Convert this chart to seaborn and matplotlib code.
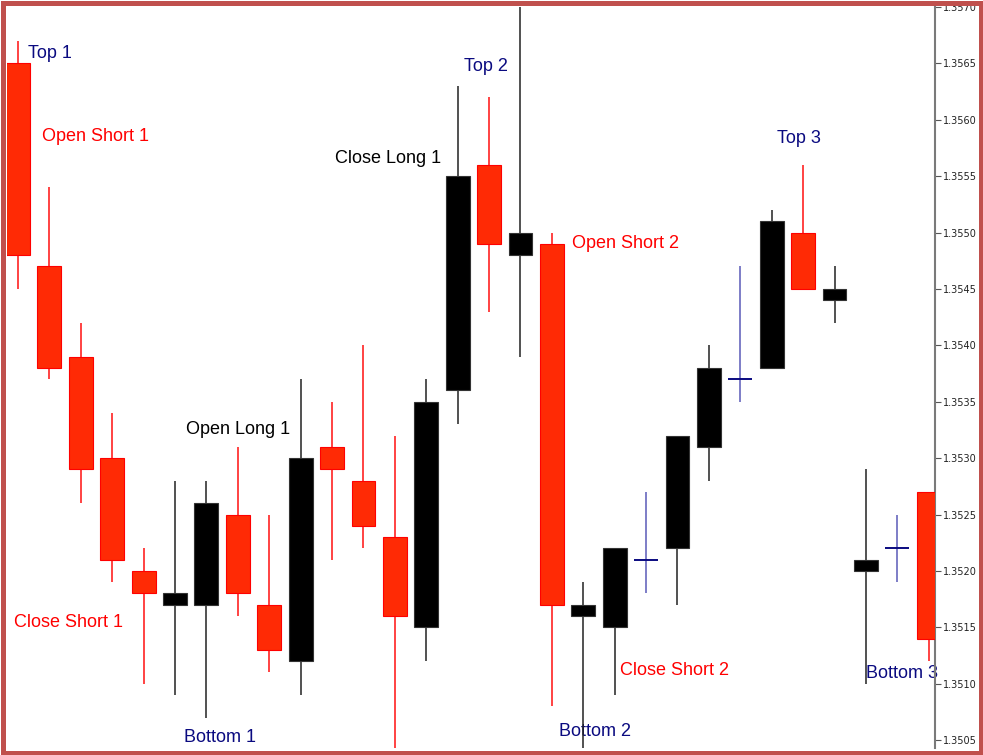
import numpy as np
import pandas as pd
import matplotlib
matplotlib.use("Agg")
import matplotlib.pyplot as plt
from matplotlib.patches import Rectangle
import seaborn as sns

# candle data (EUR-style 4-digit quotes)
opens = [1.3565, 1.3547, 1.3539, 1.3530, 1.3520, 1.3517, 1.3517, 1.3525, 1.3517, 1.3512,
         1.3531, 1.3528, 1.3523, 1.3515, 1.3536, 1.3556, 1.3548, 1.3549, 1.3516, 1.3515,
         1.3521, 1.3522, 1.3531, 1.3537, 1.3538, 1.3550, 1.3544, 1.3520, 1.3522, 1.3527]
highs = [1.3567, 1.3554, 1.3542, 1.3534, 1.3522, 1.3528, 1.3528, 1.3531, 1.3525, 1.3537,
         1.3535, 1.3540, 1.3532, 1.3537, 1.3563, 1.3562, 1.3571, 1.3550, 1.3519, 1.3522,
         1.3527, 1.3532, 1.3540, 1.3547, 1.3552, 1.3556, 1.3547, 1.3529, 1.3525, 1.3527]
lows = [1.3545, 1.3537, 1.3526, 1.3519, 1.3510, 1.3509, 1.3507, 1.3516, 1.3511, 1.3509,
        1.3521, 1.3522, 1.3503, 1.3512, 1.3533, 1.3543, 1.3539, 1.3508, 1.3503, 1.3509,
        1.3518, 1.3517, 1.3528, 1.3535, 1.3538, 1.3545, 1.3542, 1.3510, 1.3519, 1.3512]
closes = [1.3548, 1.3538, 1.3529, 1.3521, 1.3518, 1.3518, 1.3526, 1.3518, 1.3513, 1.3530,
          1.3529, 1.3524, 1.3516, 1.3535, 1.3555, 1.3549, 1.3550, 1.3517, 1.3517, 1.3522,
          1.3521, 1.3532, 1.3538, 1.3537, 1.3551, 1.3545, 1.3545, 1.3521, 1.3522, 1.3514]

# annotations: text, candle-x, price, colour key
labels = ["Top 1", "Open Short 1", "Close Short 1", "Open Long 1", "Bottom 1", "Close Long 1",
          "Top 2", "Open Short 2", "Bottom 2", "Close Short 2", "Top 3", "Bottom 3"]
label_x = [0.32, 0.76, -0.13, 5.35, 5.29, 10.1, 14.2, 17.64, 17.23, 19.17, 24.17, 27.0]
label_y = [1.35659, 1.35585, 1.35154, 1.35325, 1.35052, 1.35566, 1.35647, 1.35490,
           1.35058, 1.35112, 1.35583, 1.35109]
label_kind = ["top", "short", "short", "long", "top", "long",
              "top", "short", "top", "short", "top", "top"]

yticks = [1.3505, 1.3510, 1.3515, 1.3520, 1.3525, 1.3530, 1.3535,
          1.3540, 1.3545, 1.3550, 1.3555, 1.3560, 1.3565, 1.3570]

RED = "#ff2a05"
NAVY = "#0a0a80"
text_colors = {"top": NAVY, "short": "#ff0000", "long": "#000000"}

df = pd.DataFrame({"open": opens, "high": highs, "low": lows, "close": closes})
df["idx"] = np.arange(len(df))
df["kind"] = np.where(df["close"] > df["open"], "bull",
                      np.where(df["close"] < df["open"], "bear", "doji"))

sns.set_style("white")
fig = plt.figure(figsize=(9.83, 7.55), dpi=100)
W, H = 983, 755
ax = fig.add_axes([7 / W, 7 / H, (935 - 7) / W, (748 - 7) / H])

body_w = 0.76

# wicks
wick_colors = {"bull": "#222222", "bear": "#ff1010", "doji": "#5a5ab8"}
for kind, grp in df.groupby("kind"):
    ax.vlines(grp["idx"], grp["low"], grp["high"], color=wick_colors[kind], lw=1.1, zorder=2)

# bodies
bull = df[df["kind"] == "bull"]
bear = df[df["kind"] == "bear"]
ax.bar(bull["idx"], bull["close"] - bull["open"], bottom=bull["open"], width=body_w,
       color="#000000", edgecolor="#333333", lw=0.8, zorder=3)
ax.bar(bear["idx"], bear["open"] - bear["close"], bottom=bear["close"], width=body_w,
       color=RED, edgecolor="#ff0000", lw=0.8, zorder=3)

# doji crosses
doji = df[df["kind"] == "doji"]
ax.hlines(doji["open"], doji["idx"] - body_w / 2, doji["idx"] + body_w / 2,
          color=NAVY, lw=1.4, zorder=3)

for t, x, y, k in zip(labels, label_x, label_y, label_kind):
    ax.text(x, y, t, color=text_colors[k], fontsize=13, ha="left", va="center",
            family=["Liberation Sans Narrow", "Liberation Sans"], zorder=1)

ax.set_xlim(-0.35, 29.2)
ax.set_ylim(1.35043, 1.35699)
ax.set_xticks([])
ax.yaxis.tick_right()
ax.set_yticks(yticks)
ax.set_yticklabels([f"{v:.4f}" for v in yticks])
ax.tick_params(axis="y", direction="out", length=4, width=0.8, colors="#555555",
               labelcolor="#222222", labelsize=7, pad=2, right=True)
for side in ["left", "top", "bottom"]:
    ax.spines[side].set_visible(False)
ax.spines["right"].set_color("#7a7a7a")
ax.spines["right"].set_linewidth(1.5)

# outer frame
fig.add_artist(Rectangle((2.5 / W, 2.5 / H), 1 - 5 / W, 1 - 5 / H, transform=fig.transFigure,
                         fill=False, edgecolor="#c0504d", lw=3.6, zorder=10))

fig.savefig("out.png", dpi=100)
